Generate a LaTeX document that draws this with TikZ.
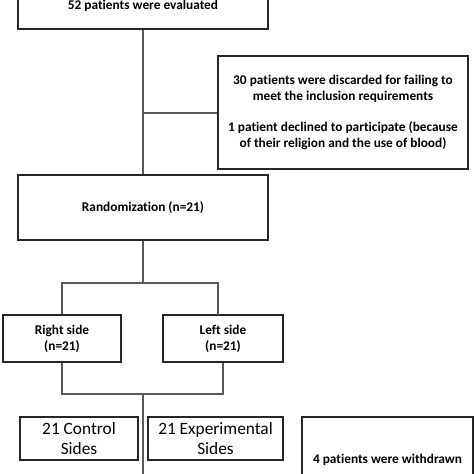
\documentclass[tikz,border=0pt]{standalone}
\usepackage{fontspec}
\setmainfont{Carlito}[Ligatures=NoCommon]
\begin{document}
\begin{tikzpicture}[x=0.75pt,y=-0.75pt,
  box/.style={draw=black!85,line width=1.5pt,fill=white,inner sep=0pt,align=center,font=\fontsize{10}{12.2}\selectfont\bfseries},
  bigbox/.style={draw=black!85,line width=1.5pt,fill=white,inner sep=0pt,align=center,font=\fontsize{13}{15}\selectfont},
  conn/.style={draw=black!65,line width=0.8pt}]
\useasboundingbox (0,0) rectangle (474,474);
\clip (0,0) rectangle (474,474);
\fill[white] (0,0) rectangle (474,474);
% nodes
\node[box,minimum width=187.5pt,minimum height=34.5pt] (top) at (143,6) {52 patients were evaluated};
\node[box,minimum width=187.5pt,minimum height=84.75pt] (excl) at (343,112.5)
  {30 patients were discarded for failing to\\meet the inclusion requirements\\[10.5pt]1 patient declined to participate (because\\of their religion and the use of blood)};
\node[box,minimum width=187.5pt,minimum height=48.75pt] (rand) at (143,207.5) {Randomization (n=21)};
\node[box,minimum width=88.5pt,minimum height=35.25pt] (right) at (62,338.5) {Right side\\(n=21)};
\node[box,minimum width=90pt,minimum height=35.25pt] (left) at (223,338.5) {Left side\\(n=21)};
\node[bigbox,minimum width=88.5pt,minimum height=32.25pt] (ctrl) at (79,438.5) {21 Control\\Sides};
\node[bigbox,minimum width=101.25pt,minimum height=32.25pt] (exp) at (215.5,438.5) {21 Experimental\\Sides};
\node[box,minimum width=128.25pt,minimum height=64.5pt] (wd) at (387.5,460) {4 patients were withdrawn};
% connectors
\coordinate (b1) at (143,113);
\coordinate (s1) at (143,283);
\coordinate (sl) at (62,283);
\coordinate (sr) at (218,283);
\coordinate (lt) at (218,315);
\coordinate (jl) at (62,394);
\coordinate (jr) at (223,394);
\coordinate (jm) at (143,394);
\coordinate (end) at (143,480);
\draw[conn] (top.south) -- (rand.north);
\draw[conn] (b1) -- (excl.west |- b1);
\draw[conn] (rand.south) -- (s1);
\draw[conn] (right.north) -- (sl) -- (sr) -- (lt);
\draw[conn] (right.south) -- (jl) -- (jr) -- (left.south);
\draw[conn] (jm) -- (end);
\end{tikzpicture}
\end{document}
